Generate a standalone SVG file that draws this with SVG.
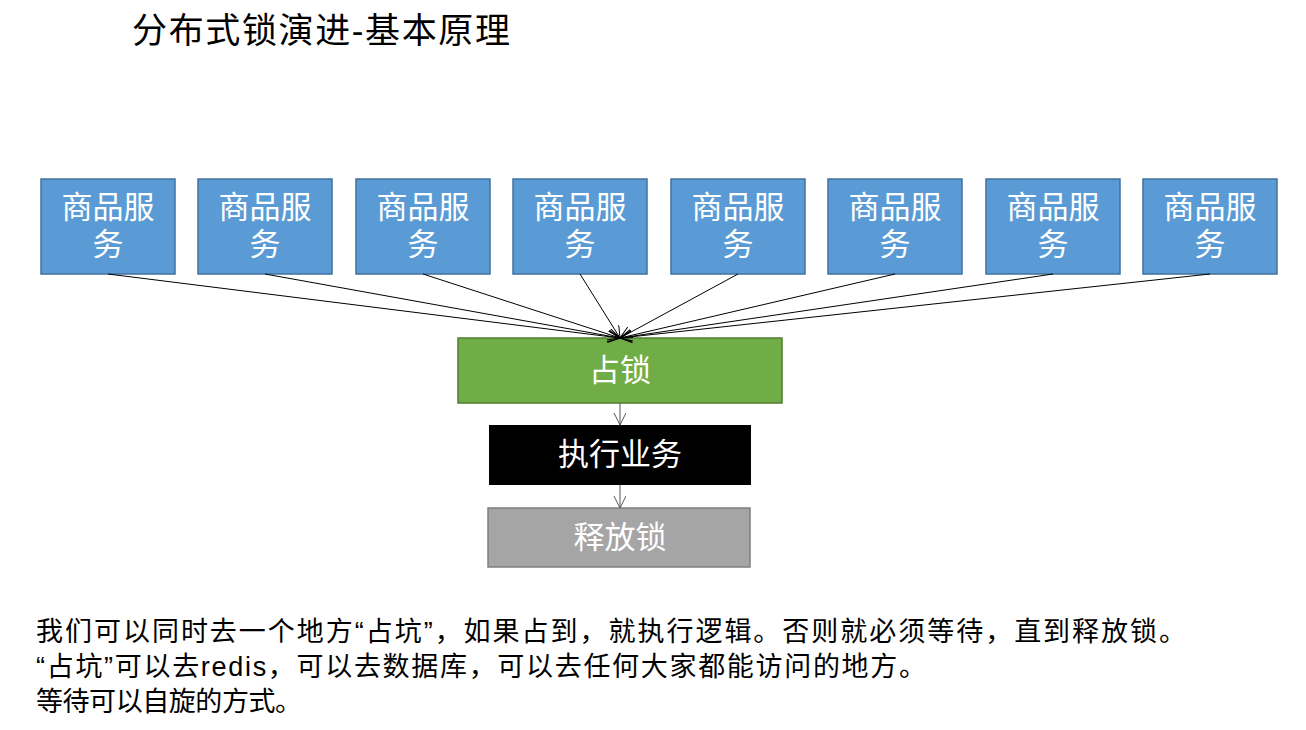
<svg xmlns="http://www.w3.org/2000/svg" width="1306" height="730" viewBox="0 0 1306 730">
<style>
.t{font-family:"Liberation Sans","Noto Sans CJK SC",sans-serif}
.svc rect{fill:#5b9bd5;stroke:#41719c;stroke-width:1.5}
.svc text{fill:#fff;font-size:31px;text-anchor:middle}
.c line{stroke:#000;stroke-width:1;marker-end:url(#a)}
.c line.g{stroke:#555;marker-end:url(#b)}
.body{font-size:27px;fill:#000}
</style>
<defs>
<marker id="a" markerWidth="14" markerHeight="14" refX="12" refY="6" orient="auto" markerUnits="userSpaceOnUse"><path d="M0,0L12,6L0,12" fill="none" stroke="#000"/></marker>
<marker id="b" markerWidth="14" markerHeight="14" refX="12" refY="6" orient="auto" markerUnits="userSpaceOnUse"><path d="M0,0L12,6L0,12" fill="none" stroke="#555"/></marker>
</defs>
<rect width="1306" height="730" fill="#fff"/>
<text class="t" x="132" y="43" font-size="35" textLength="378">分布式锁演进-基本原理</text>
<g class="svc t">
<g id="s1"><rect x="41" y="179" width="134" height="95"/><text x="108" y="218">商品服</text><text x="108" y="255">务</text></g>
<g id="s2"><rect x="198" y="179" width="134" height="95"/><text x="265" y="218">商品服</text><text x="265" y="255">务</text></g>
<g id="s3"><rect x="356" y="179" width="134" height="95"/><text x="423" y="218">商品服</text><text x="423" y="255">务</text></g>
<g id="s4"><rect x="513" y="179" width="134" height="95"/><text x="580" y="218">商品服</text><text x="580" y="255">务</text></g>
<g id="s5"><rect x="671" y="179" width="134" height="95"/><text x="738" y="218">商品服</text><text x="738" y="255">务</text></g>
<g id="s6"><rect x="828" y="179" width="134" height="95"/><text x="895" y="218">商品服</text><text x="895" y="255">务</text></g>
<g id="s7"><rect x="986" y="179" width="134" height="95"/><text x="1053" y="218">商品服</text><text x="1053" y="255">务</text></g>
<g id="s8"><rect x="1143" y="179" width="134" height="95"/><text x="1210" y="218">商品服</text><text x="1210" y="255">务</text></g>
</g>
<g id="lock"><rect x="458" y="338" width="324" height="65" fill="#70ad47" stroke="#507e32" stroke-width="1.5"/><text class="t" x="620" y="381" font-size="31" fill="#fff" text-anchor="middle">占锁</text></g>
<g id="exec"><rect x="489" y="425" width="262" height="60" fill="#000"/><text class="t" x="620" y="465" font-size="31" fill="#fff" text-anchor="middle">执行业务</text></g>
<g id="release"><rect x="488" y="508" width="262" height="59" fill="#a5a5a5" stroke="#7f7f7f" stroke-width="1.5"/><text class="t" x="620" y="548" font-size="31" fill="#fff" text-anchor="middle">释放锁</text></g>
<g class="c">
<line x1="108" y1="274" x2="620" y2="338"/>
<line x1="265" y1="274" x2="620" y2="338"/>
<line x1="423" y1="274" x2="620" y2="338"/>
<line x1="580" y1="274" x2="620" y2="338"/>
<line x1="738" y1="274" x2="620" y2="338"/>
<line x1="895" y1="274" x2="620" y2="338"/>
<line x1="1053" y1="274" x2="620" y2="338"/>
<line x1="1210" y1="274" x2="620" y2="338"/>
<line class="g" x1="620" y1="403" x2="620" y2="425"/>
<line class="g" x1="620" y1="485" x2="620" y2="508"/>
</g>
<text class="t body" x="36" y="641" textLength="1150">我们可以同时去一个地方“占坑”，如果占到，就执行逻辑。否则就必须等待，直到释放锁。</text>
<text class="t body" x="36" y="676" textLength="890">“占坑”可以去redis，可以去数据库，可以去任何大家都能访问的地方。</text>
<text class="t body" x="36" y="711" textLength="266">等待可以自旋的方式。</text>
</svg>
